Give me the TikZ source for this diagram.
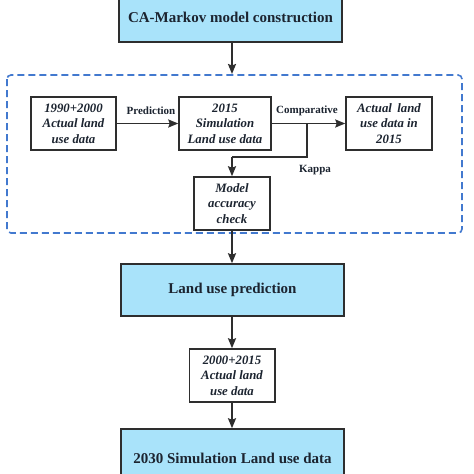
\documentclass[tikz,border=0pt]{standalone}
\usepackage{fontspec}
\setmainfont{Liberation Serif}
\usetikzlibrary{arrows.meta}
\definecolor{boxblue}{HTML}{A9E3FA}
\definecolor{dashblue}{HTML}{4279CF}
\definecolor{edge}{HTML}{2E2E2E}
\definecolor{txt}{HTML}{1C2430}
\tikzset{
  bigbox/.style={draw=edge, line width=1.5pt, fill=boxblue, minimum width=223pt, inner sep=0pt, text=txt, font=\fontsize{15}{17}\selectfont\bfseries},
  smallbox/.style={draw=edge, line width=1.5pt, fill=white, inner sep=0pt, align=center, text=txt, font=\fontsize{12.8}{15.5}\selectfont\bfseries\itshape},
  lbl/.style={text=txt, font=\fontsize{11}{13}\selectfont\bfseries},
  arr/.style={draw=edge, line width=1.8pt, -{Stealth[length=10pt,width=8pt,inset=1.5pt]}},
  ln/.style={draw=edge, line width=1.8pt}
}
\begin{document}
\begin{tikzpicture}[x=1pt,y=-1pt]
\useasboundingbox (0,0) rectangle (474,474);
\fill[white] (0,0) rectangle (474,474);
% dashed frame
\draw[dashblue, line width=1.6pt, dash pattern=on 7pt off 4pt, rounded corners=4pt] (7,75) rectangle (462,233);
\coordinate (frametop) at (232,74);
% big boxes
\node[bigbox, minimum height=50pt] (cam) at (230.5,17) {CA-Markov model construction};
\node[bigbox, minimum height=52pt] (lup) at (232.5,290) {Land use prediction};
\node[bigbox, minimum height=58pt] (sim) at (232.5,458) {2030 Simulation Land use data};
% small boxes
\node[smallbox, minimum width=85pt, minimum height=53pt] (a) at (73.5,123.5) {1990+2000\\Actual land\\use data};
\node[smallbox, minimum width=92pt, minimum height=53pt] (b) at (225,123.5) {2015\\Simulation\\Land use data};
\node[smallbox, minimum width=86pt, minimum height=53pt] (c) at (389,123.5) {Actual\, land\\use data in\\2015};
\node[smallbox, minimum width=76pt, minimum height=53pt] (m) at (232,203.5) {Model\\accuracy\\check};
\node[smallbox, minimum width=85.5pt, minimum height=53pt] (d) at (232,375.5) {2000+2015\\Actual land\\use data};
% labels
\node[lbl] (pl) at (151,111) {Prediction};
\node[lbl] (cl) at (307,111) {Comparative};
\node[lbl] (kl) at (315,170) {Kappa};
% connectors
\draw[arr] (cam.south -| frametop) -- (frametop);
\draw[arr] (a.east) -- (b.west);
\draw[arr] (b.east) -- (c.west);
\coordinate (j1) at (307,123.5);
\coordinate (j2) at (307,157);
\coordinate (j3) at (232,157);
\draw[ln] (j1) -- (j2) -- (j3);
\draw[arr] (j3) -- (m.north);
\draw[arr] (m.south) -- (lup.north -| m.south);
\draw[arr] (lup.south -| d.north) -- (d.north);
\draw[arr] (d.south) -- (sim.north -| d.south);
\end{tikzpicture}
\end{document}
